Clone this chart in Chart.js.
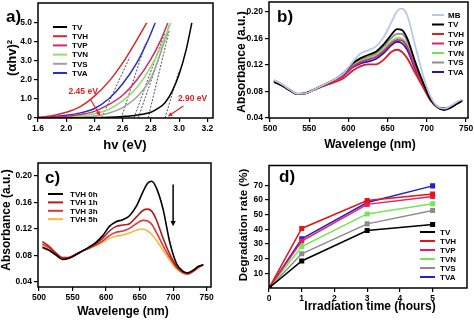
<!DOCTYPE html>
<html><head><meta charset="utf-8">
<script src="https://cdn.jsdelivr.net/npm/chart.js@4.4.1/dist/chart.umd.min.js"></script>
<style>
body{margin:0;background:#fff;width:474px;height:323px;overflow:hidden;position:relative}
canvas{position:absolute}
</style></head><body>
<canvas id="ca" width="237" height="160" style="left:0;top:0"></canvas>
<canvas id="cb" width="237" height="160" style="left:237px;top:0"></canvas>
<canvas id="cc" width="237" height="163" style="left:0;top:160px"></canvas>
<canvas id="cd" width="237" height="163" style="left:237px;top:160px"></canvas>
<script>
// ---------- Panel a: Tauc plot ----------
const aXTicks = [2.0, 2.2, 2.4, 2.6, 2.8, 3.0, 3.2];
const aXTickLabels = ["1.6", "2.0", "2.4", "2.6", "2.8", "3.0", "3.2"];
const aYTicks = [0, 1, 2, 3, 4, 5];
const aYTickLabels = ["0", "1.0", "2.0", "3.0", "4.0", "5.0"];
const aTV_x  = [2.0, 2.3, 2.5, 2.6, 2.7, 2.8, 2.85, 2.9, 2.95, 3.0, 3.05, 3.09];
const aTV_y  = [0, 0.01, 0.04, 0.08, 0.15, 0.3, 0.5, 0.8, 1.4, 2.3, 3.6, 5.0];
const aTVH_x = [2.0, 2.1, 2.2, 2.3, 2.4, 2.5, 2.6, 2.7, 2.77];
const aTVH_y = [0.03, 0.12, 0.3, 0.6, 1.15, 1.9, 2.9, 4.1, 5.0];
const aTVP_x = [2.0, 2.2, 2.3, 2.4, 2.5, 2.6, 2.7, 2.8, 2.87, 2.92];
const aTVP_y = [0.01, 0.08, 0.18, 0.35, 0.7, 1.2, 2.0, 3.1, 4.1, 5.0];
const aTVN_x = [2.0, 2.2, 2.3, 2.4, 2.5, 2.6, 2.7, 2.8, 2.88, 2.94];
const aTVN_y = [0, 0.04, 0.1, 0.22, 0.45, 0.9, 1.6, 2.7, 3.9, 5.0];
const aTVS_x = [2.0, 2.2, 2.3, 2.4, 2.5, 2.6, 2.7, 2.8, 2.88, 2.93];
const aTVS_y = [0, 0.02, 0.05, 0.1, 0.25, 0.55, 1.1, 2.1, 3.7, 4.9];
const aTVA_x = [2.0, 2.1, 2.2, 2.3, 2.4, 2.5, 2.6, 2.7, 2.78, 2.83];
const aTVA_y = [0.02, 0.06, 0.14, 0.27, 0.5, 1.0, 1.8, 2.9, 4.1, 5.0];
// tangent (dashed) lines: start x, end x, end y (start y = 0)
const aTanX0 = [2.45, 2.59, 2.68, 2.71, 2.78, 2.90];
const aTanX1 = [2.65, 2.76, 2.90, 2.92, 2.93, 3.00];
const aTanY1 = [3.2, 3.9, 4.5, 4.5, 4.6, 2.5];

// ---------- Panel b: absorbance spectra ----------
const bWave = [505,515,525,535,545,555,565,575,585,595,605,615,625,635,645,655,662,668,675,685,695,705,715,722,730,738,745];
const bMB  = [0.097,0.091,0.083,0.0765,0.077,0.082,0.088,0.094,0.100,0.109,0.124,0.137,0.142,0.148,0.162,0.185,0.201,0.205,0.195,0.150,0.105,0.072,0.056,0.054,0.058,0.064,0.068];
const bTV  = [0.095,0.089,0.082,0.076,0.077,0.082,0.088,0.094,0.100,0.109,0.122,0.130,0.135,0.140,0.151,0.166,0.174,0.173,0.160,0.125,0.094,0.068,0.055,0.052,0.055,0.061,0.066];
const bTVH = [0.094,0.089,0.082,0.0765,0.0775,0.082,0.087,0.091,0.095,0.101,0.111,0.118,0.121,0.121,0.128,0.140,0.143,0.140,0.130,0.108,0.087,0.066,0.055,0.053,0.056,0.062,0.066];
const bTVP = [0.096,0.090,0.082,0.076,0.077,0.082,0.087,0.092,0.098,0.106,0.117,0.124,0.128,0.132,0.141,0.153,0.158,0.157,0.147,0.117,0.090,0.067,0.055,0.053,0.056,0.062,0.067];
const bTVN = [0.097,0.091,0.083,0.0765,0.077,0.082,0.087,0.093,0.099,0.107,0.119,0.126,0.130,0.134,0.144,0.156,0.161,0.160,0.150,0.119,0.091,0.067,0.055,0.053,0.056,0.062,0.067];
const bTVS = [0.097,0.091,0.083,0.0765,0.077,0.082,0.088,0.093,0.099,0.108,0.121,0.128,0.132,0.137,0.148,0.161,0.167,0.167,0.156,0.122,0.092,0.068,0.055,0.053,0.056,0.062,0.067];
const bTVA = [0.096,0.090,0.082,0.076,0.077,0.082,0.087,0.092,0.098,0.105,0.116,0.122,0.125,0.129,0.138,0.150,0.155,0.153,0.143,0.114,0.089,0.067,0.056,0.055,0.057,0.063,0.067];
const bXTicks = [500, 550, 600, 650, 700, 750];
const bYTicks = [0.04, 0.08, 0.12, 0.16, 0.20];

// ---------- Panel c: TVH over irradiation time ----------
const cWave = bWave;
const cTVH0 = [0.092,0.088,0.081,0.074,0.076,0.081,0.087,0.093,0.100,0.110,0.124,0.131,0.134,0.140,0.154,0.176,0.189,0.192,0.182,0.150,0.100,0.068,0.056,0.054,0.058,0.064,0.066];
const cTVH1 = [0.101,0.094,0.084,0.077,0.077,0.082,0.087,0.092,0.098,0.106,0.117,0.124,0.126,0.128,0.138,0.148,0.150,0.147,0.134,0.106,0.082,0.064,0.055,0.053,0.057,0.063,0.066];
const cTVH3 = [0.097,0.092,0.083,0.076,0.077,0.082,0.087,0.091,0.096,0.102,0.110,0.115,0.117,0.121,0.128,0.133,0.132,0.127,0.115,0.095,0.077,0.062,0.054,0.052,0.056,0.062,0.066];
const cTVH5 = [0.094,0.090,0.082,0.075,0.077,0.082,0.087,0.091,0.095,0.100,0.106,0.109,0.111,0.114,0.118,0.120,0.117,0.112,0.103,0.088,0.073,0.060,0.053,0.052,0.056,0.062,0.066];
const cXTicks = [500, 550, 600, 650, 700, 750];
const cYTicks = [0.04, 0.08, 0.12, 0.16, 0.20];

// ---------- Panel d: degradation rate ----------
const dTime = [0, 1, 3, 5];
const dTV  = [0, 18.4, 39.2, 43.3];
const dTVH = [0, 40.6, 59.6, 64.0];
const dTVP = [0, 32.0, 57.0, 62.3];
const dTVN = [0, 28.3, 50.5, 57.4];
const dTVS = [0, 23.3, 43.7, 52.8];
const dTVA = [0, 33.5, 58.3, 69.6];
const dXTicks = [0, 1, 2, 3, 4, 5];
const dYTicks = [10, 20, 30, 40, 50, 60, 70];

// ---------- helpers ----------
const FONT = '"Liberation Sans", Arial, Helvetica, sans-serif';
const pts = (xs, ys) => xs.map((x, i) => ({x, y: ys[i]}));

const decoPlugin = {
  id: 'deco',
  afterDraw(chart, args, o) {
    const ctx = chart.ctx, a = chart.chartArea;
    const xs = chart.scales.x, ys = chart.scales.y;
    ctx.save();
    // annotation arrows
    (o.arrows || []).forEach(r => {
      const x1 = xs.getPixelForValue(r.x1), y1 = ys.getPixelForValue(r.y1);
      const x2 = xs.getPixelForValue(r.x2), y2 = ys.getPixelForValue(r.y2);
      ctx.strokeStyle = r.color; ctx.fillStyle = r.color; ctx.lineWidth = r.w;
      const ang = Math.atan2(y2 - y1, x2 - x1), hl = r.head;
      ctx.beginPath(); ctx.moveTo(x1, y1);
      ctx.lineTo(x2 - Math.cos(ang) * hl * 0.8, y2 - Math.sin(ang) * hl * 0.8); ctx.stroke();
      ctx.beginPath(); ctx.moveTo(x2, y2);
      ctx.lineTo(x2 - hl * Math.cos(ang - 0.45), y2 - hl * Math.sin(ang - 0.45));
      ctx.lineTo(x2 - hl * Math.cos(ang + 0.45), y2 - hl * Math.sin(ang + 0.45));
      ctx.closePath(); ctx.fill();
    });
    (o.texts || []).forEach(t => {
      ctx.fillStyle = t.color; ctx.font = 'bold ' + t.size + 'px ' + FONT;
      ctx.textAlign = 'center'; ctx.textBaseline = 'middle';
      ctx.fillText(t.text, xs.getPixelForValue(t.x), ys.getPixelForValue(t.y));
    });
    // frame
    ctx.strokeStyle = '#000'; ctx.lineWidth = 1.5;
    ctx.strokeRect(a.left, a.top, a.right - a.left, a.bottom - a.top);
    // panel label
    ctx.fillStyle = '#000'; ctx.textBaseline = 'middle'; ctx.textAlign = 'left';
    ctx.font = 'bold 17px ' + FONT;
    ctx.fillText(o.label, o.labelX, o.labelY);
    // x title
    ctx.textAlign = 'center';
    ctx.font = 'bold ' + o.xTitleSize + 'px ' + FONT;
    ctx.fillText(o.xTitle, o.xTitleX, o.xTitleY);
    // y title
    ctx.save(); ctx.translate(o.yTitleX, o.yTitleY); ctx.rotate(-Math.PI / 2);
    ctx.font = 'bold ' + o.yTitleSize + 'px ' + FONT;
    ctx.fillText(o.yTitle, 0, 0); ctx.restore();
    // legend
    ctx.font = 'bold 8px ' + FONT; ctx.textAlign = 'left';
    let row = 0;
    chart.data.datasets.forEach(ds => {
      if (ds.noLegend) return;
      const y = o.legY + row * o.legDy;
      ctx.strokeStyle = ds.borderColor; ctx.lineWidth = 2;
      ctx.beginPath(); ctx.moveTo(o.legX, y); ctx.lineTo(o.legX + o.legLen, y); ctx.stroke();
      ctx.fillStyle = '#000';
      ctx.fillText(ds.label, o.legX + o.legLen + o.legGap, y + 0.5);
      row++;
    });
    ctx.restore();
  }
};

function axis(dir, min, max, ticks, labels, size) {
  return {
    type: 'linear', min, max, position: dir === 'x' ? 'bottom' : 'left',
    afterBuildTicks: s => { s.ticks = ticks.map(v => ({value: v})); },
    afterFit: s => {
      if (dir === 'x') s.height = size; else s.width = size;
      s.paddingLeft = 0; s.paddingRight = 0; s.paddingTop = 0; s.paddingBottom = 0;
    },
    ticks: {autoSkip: false, maxRotation: 0, color: '#000', padding: 2,
      font: {family: FONT, weight: 'bold', size: 8.5},
      callback: (v, i) => labels[i]},
    grid: {drawOnChartArea: false, drawTicks: true, tickLength: 4, color: '#000', lineWidth: 1.2},
    border: {display: false}
  };
}

function makeChart(id, datasets, sc, deco) {
  return new Chart(document.getElementById(id), {
    type: 'line',
    data: {datasets},
    options: {
      responsive: false, animation: false, devicePixelRatio: 1,
      layout: {padding: {top: sc.padTop, right: sc.padRight, left: 0, bottom: 0}},
      plugins: {legend: {display: false}, tooltip: {enabled: false}, deco},
      elements: {point: {radius: 0}, line: {borderWidth: 1.5}},
      scales: {
        x: axis('x', sc.xMin, sc.xMax, sc.xTicks, sc.xLabels, sc.xH),
        y: axis('y', sc.yMin, sc.yMax, sc.yTicks, sc.yLabels, sc.yW)
      }
    },
    plugins: [decoPlugin]
  });
}

const curve = (label, color, xs, ys, w) => ({label, borderColor: color, backgroundColor: color,
  data: pts(xs, ys), cubicInterpolationMode: 'monotone', borderWidth: w || 1.5, fill: false});

// ---------- Panel a ----------
const aSets = [
  curve('TV', '#000000', aTV_x, aTV_y),
  curve('TVH', '#d8282e', aTVH_x, aTVH_y),
  curve('TVP', '#d02a6a', aTVP_x, aTVP_y),
  curve('TVN', '#8ee06a', aTVN_x, aTVN_y),
  curve('TVS', '#a0a0a0', aTVS_x, aTVS_y),
  curve('TVA', '#2830c8', aTVA_x, aTVA_y)
];
aTanX0.forEach((x0, i) => aSets.push({label: 'tangent', noLegend: true, borderColor: '#222',
  borderDash: [2, 1.5], borderWidth: 0.8, data: [{x: x0, y: 0}, {x: aTanX1[i], y: aTanY1[i]}]}));
makeChart('ca', aSets,
  {xMin: 2.0, xMax: 3.24, xTicks: aXTicks, xLabels: aXTickLabels, yMin: 0, yMax: 6.05,
   yTicks: aYTicks, yLabels: aYTickLabels, padTop: 3, padRight: 24, xH: 42, yW: 38},
  {label: 'a)', labelX: 6, labelY: 17, xTitle: 'hv (eV)', xTitleX: 125, xTitleY: 145, xTitleSize: 13,
   yTitle: '(αhv)²', yTitleX: 12, yTitleY: 58, yTitleSize: 13,
   legX: 53, legY: 27, legDy: 9.2, legLen: 14, legGap: 5,
   texts: [{text: '2.45 eV', x: 2.32, y: 1.37, color: '#e02020', size: 8.5},
           {text: '2.90 eV', x: 3.095, y: 1.0, color: '#e02020', size: 8.5}],
   arrows: [{x1: 2.37, y1: 1.0, x2: 2.44, y2: 0.12, color: '#e02020', w: 1.2, head: 5},
            {x1: 3.03, y1: 0.63, x2: 2.92, y2: 0.08, color: '#e02020', w: 1.2, head: 5}]});

// ---------- Panel b ----------
makeChart('cb', [
  curve('MB', '#b8c8e8', bWave, bMB, 1.8),
  curve('TV', '#000000', bWave, bTV, 1.8),
  curve('TVH', '#d82020', bWave, bTVH, 1.8),
  curve('TVP', '#e0207a', bWave, bTVP, 1.8),
  curve('TVN', '#70e050', bWave, bTVN, 1.8),
  curve('TVS', '#909090', bWave, bTVS, 1.8),
  curve('TVA', '#1a1ab8', bWave, bTVA, 1.8)
], {xMin: 498.7, xMax: 752.5, xTicks: bXTicks, xLabels: bXTicks.map(String), yMin: 0.04, yMax: 0.215,
    yTicks: bYTicks, yLabels: bYTicks.map(v => v.toFixed(2)), padTop: 2, padRight: 6, xH: 42, yW: 32},
  {label: 'b)', labelX: 40, labelY: 17, xTitle: 'Wavelenge (nm)', xTitleX: 133, xTitleY: 145, xTitleSize: 12,
   yTitle: 'Absorbance (a.u.)', yTitleX: 5, yTitleY: 62, yTitleSize: 12,
   legX: 195, legY: 15, legDy: 9.5, legLen: 12, legGap: 4});

// ---------- Panel c ----------
makeChart('cc', [
  curve('TVH 0h', '#000000', cWave, cTVH0, 1.6),
  curve('TVH 1h', '#b8181e', cWave, cTVH1, 1.6),
  curve('TVH 3h', '#d8383a', cWave, cTVH3, 1.6),
  curve('TVH 5h', '#f5b841', cWave, cTVH5, 1.6)
], {xMin: 498.5, xMax: 756.5, xTicks: cXTicks, xLabels: cXTicks.map(String), yMin: 0.0325, yMax: 0.2196,
    yTicks: cYTicks, yLabels: cYTicks.map(v => v.toFixed(2)), padTop: 3, padRight: 26, xH: 36, yW: 38},
  {label: 'c)', labelX: 45, labelY: 18, xTitle: 'Wavelenge (nm)', xTitleX: 123, xTitleY: 152, xTitleSize: 12,
   yTitle: 'Absorbance (a.u.)', yTitleX: 7, yTitleY: 60, yTitleSize: 12,
   legX: 48, legY: 34, legDy: 8.4, legLen: 15, legGap: 7,
   arrows: [{x1: 700, y1: 0.187, x2: 700, y2: 0.124, color: '#000', w: 1.5, head: 6}]});

// ---------- Panel d ----------
const mark = (label, color, ys) => ({label, borderColor: color, backgroundColor: color,
  pointBackgroundColor: color, pointBorderColor: color, pointStyle: 'rect', pointRadius: 2.5,
  borderWidth: 1.5, data: pts(dTime, ys), tension: 0});
makeChart('cd', [
  mark('TV', '#000000', dTV),
  mark('TVH', '#e01818', dTVH),
  mark('TVP', '#e8205a', dTVP),
  mark('TVN', '#70e858', dTVN),
  mark('TVS', '#8c8c8c', dTVS),
  mark('TVA', '#2020d0', dTVA)
], {xMin: 0, xMax: 6.05, xTicks: dXTicks, xLabels: dXTicks.map(String), yMin: 0, yMax: 83.5,
    yTicks: dYTicks, yLabels: dYTicks.map(String), padTop: 4, padRight: 7, xH: 35, yW: 32},
  {label: 'd)', labelX: 42, labelY: 17, xTitle: 'Irradiation time (hours)', xTitleX: 133, xTitleY: 147, xTitleSize: 12,
   yTitle: 'Degradation rate (%)', yTitleX: 7, yTitleY: 65, yTitleSize: 11.5,
   legX: 183, legY: 72, legDy: 9, legLen: 15, legGap: 5});
</script>
</body></html>
